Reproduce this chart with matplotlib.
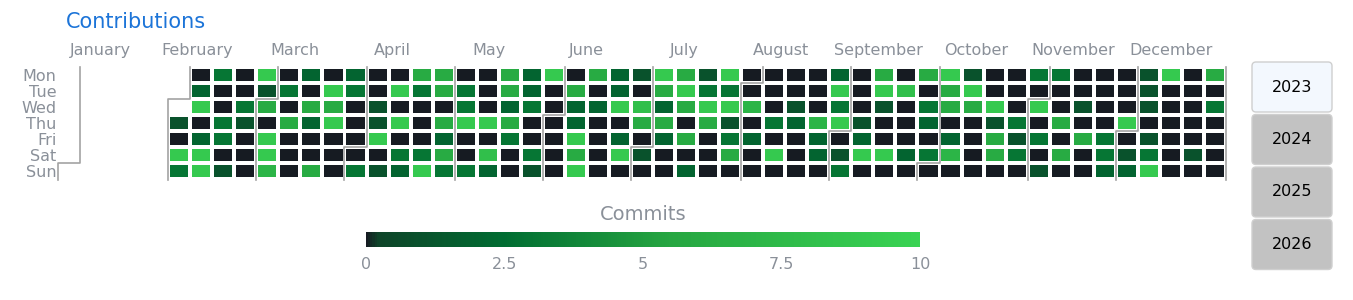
import numpy as np
import pandas as pd
import matplotlib.pyplot as plt
from matplotlib.colors import LinearSegmentedColormap, Normalize
from matplotlib.cm import ScalarMappable
from matplotlib.patches import FancyBboxPatch

year = 2023
first_week = 5   # first column with data (week of Jan 30)

# commits per day, one list per weekday, weeks 5..52 (None = no data)
mon = [None, 0, 3, 0, 9, 0, 2, 0, 2, 0, 0, 6,
       6, 0, 0, 6, 2, 9, 0, 6, 2, 1, 9, 6,
       1, 9, 0, 0, 0, 0, 2, 0, 6, 0, 6, 9,
       1, 0, 0, 3, 3, 0, 0, 0, 1, 9, 0, 6]
tue = [None, 2, 0, 0, 1, 3, 0, 9, 3, 0, 9, 3,
       6, 3, 0, 6, 2, 0, 6, 0, 2, 0, 6, 9,
       3, 3, 0, 0, 0, 0, 9, 0, 9, 8, 0, 6,
       9, 0, 0, 0, 0, 0, 0, 0, 1, 0, 0, 0]
wed = [None, 9, 0, 3, 6, 0, 6, 6, 0, 1, 0, 0,
       0, 3, 0, 2, 3, 0, 2, 2, 9, 8, 2, 6,
       9, 9, 7, 0, 1, 0, 3, 0, 1, 0, 3, 6,
       6, 9, 0, 9, 0, 1, 0, 0, 1, 0, 0, 3]
thu = [1, 0, 3, 1, 0, 6, 2, 9, 0, 1, 9, 0,
       6, 9, 9, 6, 0, 0, 2, 0, 0, 6, 6, 0,
       6, 1, 0, 3, 2, 7, 9, 1, 0, 0, 2, 0,
       0, 1, 3, 0, 6, 0, 0, 9, 0, 0, 0, 0]
fri = [0, 2, 3, 0, 9, 0, 0, 0, 0, 9, 0, 0,
       2, 0, 0, 3, 0, 0, 9, 0, 2, 0, 2, 6,
       0, 3, 2, 0, 0, 2, 0, 2, 0, 0, 0, 2,
       0, 6, 1, 3, 0, 6, 3, 0, 1, 0, 0, 0]
sat = [9, 9, 0, 0, 9, 0, 0, 0, 0, 0, 3, 3,
       6, 0, 8, 0, 3, 0, 6, 0, 9, 1, 0, 0,
       0, 6, 0, 9, 0, 2, 1, 9, 9, 2, 3, 7,
       0, 6, 3, 0, 6, 0, 3, 1, 3, 0, 1, 0]
sun = [3, 9, 1, 0, 7, 0, 6, 0, 3, 1, 2, 9,
       3, 3, 2, 0, 1, 0, 9, 0, 0, 0, 0, 2,
       0, 0, 0, 0, 0, 0, 3, 0, 0, 0, 0, 0,
       0, 0, 0, 1, 0, 0, 2, 2, 9, 0, 0, 0]

day_names = ['Mon', 'Tue', 'Wed', 'Thu', 'Fri', 'Sat', 'Sun']
month_names = ['January', 'February', 'March', 'April', 'May', 'June', 'July',
               'August', 'September', 'October', 'November', 'December']
years = ['2023', '2024', '2025', '2026']
cbar_ticks = [0, 2.5, 5, 7.5, 10]
cbar_labels = ['0', '2.5', '5', '7.5', '10']

cscale = [(0.0, '#161b22'), (0.02, '#0e4429'), (0.25, '#006d32'),
          (0.55, '#26a641'), (1.0, '#39d353')]
cmap = LinearSegmentedColormap.from_list('gh', cscale)
norm = Normalize(0, 10)
gray = '#8a9099'

W, H = 1353, 300
fig = plt.figure(figsize=(W / 100, H / 100), dpi=100)

# heatmap
ax = fig.add_axes([58 / W, 1 - 179.5 / H, 1168 / W, 113 / H])
rows = [mon, tue, wed, thu, fri, sat, sun]
weeks = np.arange(first_week, first_week + len(mon))
for r, vals in enumerate(rows):
    v = np.array([np.nan if x is None else x for x in vals], dtype=float)
    ok = ~np.isnan(v)
    ax.bar(weeks[ok], 0.74, bottom=r - 0.37, width=0.82,
           color=cmap(norm(v[ok])), linewidth=0, zorder=2)

# month borders
start = pd.Timestamp(f'{year}-01-01')
offset = start.weekday()
days = pd.date_range(start, f'{year + 1}-01-01')
for d in days[days.day == 1]:
    c = ((d - start).days + offset) // 7
    r = d.weekday()
    if r == 0:
        xs, ys = [c - 0.5, c - 0.5], [-0.5, 6.5]
    else:
        xs, ys = [c + 0.5, c + 0.5, c - 0.5, c - 0.5], [-0.5, r - 0.5, r - 0.5, 6.5]
    ax.plot(xs, ys, color='#a3a3a3', lw=1.2, zorder=3, clip_on=False)

ax.set_xlim(-0.5, 52.5)
ax.set_ylim(6.5, -0.5)
month_pos = 1.41 + np.arange(12) * 53 / 12
ax.set_xticks(month_pos)
ax.set_xticklabels(month_names)
ax.xaxis.tick_top()
ax.set_yticks(range(7))
ax.set_yticklabels(day_names)
ax.tick_params(axis='x', length=0, pad=6, labelsize=11.5, colors=gray)
ax.tick_params(axis='y', length=0, pad=1, labelsize=11.5, colors=gray)
for s in ax.spines.values():
    s.set_visible(False)

# colorbar
cax = fig.add_axes([366 / W, 1 - 247 / H, 554 / W, 15 / H])
cb = fig.colorbar(ScalarMappable(norm=norm, cmap=cmap), cax=cax,
                  orientation='horizontal', ticks=cbar_ticks)
cb.set_ticklabels(cbar_labels)
cb.outline.set_visible(False)
cax.tick_params(length=0, pad=7, labelsize=11.5, colors=gray)

# overlay in pixel units for title, colorbar title and year buttons
ov = fig.add_axes([0, 0, 1, 1])
ov.set_xlim(0, W)
ov.set_ylim(H, 0)
ov.axis('off')
ov.text(66, 22, 'Contributions', fontsize=15, color='#1c74d8', va='center', ha='left')
ov.text(643, 215, 'Commits', fontsize=14, color=gray, va='center', ha='center')

for i, yr in enumerate(years):
    y0 = 62 + i * 52.5
    face = '#f3f8fe' if i == 0 else '#c2c2c2'
    ov.add_patch(FancyBboxPatch((1252, y0), 80, 50,
                                boxstyle='round,pad=0,rounding_size=4',
                                fc=face, ec='#cfcfcf', lw=1))
    ov.text(1292, y0 + 25, yr, fontsize=11.5, color='black', ha='center', va='center')

fig.savefig('out.png', dpi=100)
